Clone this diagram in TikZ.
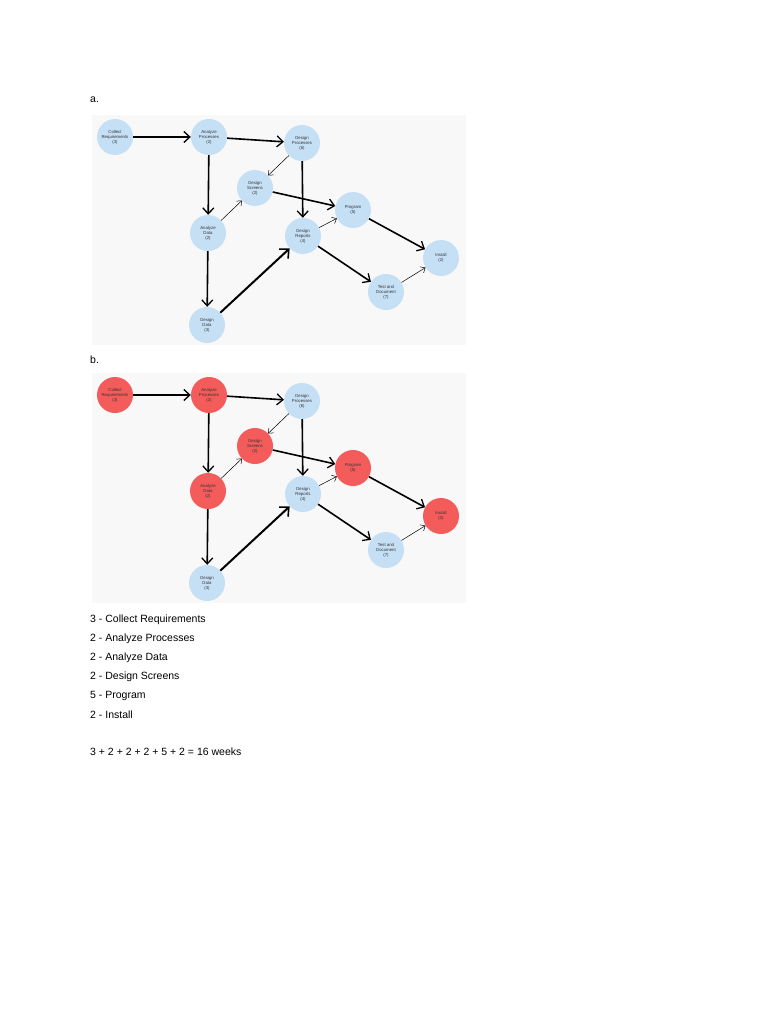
\documentclass[tikz,border=0pt]{standalone}
\usepackage{fontspec}
\setmainfont{Liberation Sans}
\usetikzlibrary{arrows.meta}
\definecolor{nblue}{HTML}{C5DFF5}
\definecolor{nred}{HTML}{F45B5B}
\definecolor{panel}{HTML}{F8F8F8}
\tikzset{
 nd/.style={circle,minimum size=36pt,inner sep=0pt,align=center,font=\fontsize{4.3}{5}\selectfont,text=black!80},
 reg/.style={nd,fill=nblue},
 thick arr/.style={line width=1.6pt,-{Straight Barb[length=6pt,width=11pt,line width=1.3pt]}},
 thin arr/.style={line width=0.5pt,-{Straight Barb[length=4pt,width=7pt,line width=0.5pt]}},
 txt/.style={anchor=west,inner sep=0pt,font=\fontsize{10.5}{12}\selectfont}
}
\newcommand\drawnet[1]{%
 \fill[panel] (92,-115) rectangle (466,-345);
 \node[crit] (#1cr) at (115,-137) {Collect\\Requirements\\(3)};
 \node[crit] (#1ap) at (209,-137) {Analyze\\Processes\\(2)};
 \node[reg] (#1dp) at (302,-143) {Design\\Processes\\(6)};
 \node[crit] (#1ds) at (255,-188) {Design\\Screens\\(2)};
 \node[crit] (#1ad) at (208,-233) {Analyze\\Data\\(2)};
 \node[reg] (#1dd) at (207,-325) {Design\\Data\\(3)};
 \node[reg] (#1dr) at (303,-236) {Design\\Reports\\(4)};
 \node[crit] (#1pg) at (353,-210) {Program\\(5)};
 \node[crit] (#1in) at (441,-258) {Install\\(2)};
 \node[reg] (#1td) at (386,-292) {Test and\\Document\\(7)};
 \draw[thick arr] (#1cr) -- (#1ap);
 \draw[thick arr] (#1ap) -- (#1dp);
 \draw[thick arr] (#1ap) -- (#1ad);
 \draw[thick arr] (#1dp) -- (#1dr);
 \draw[thin arr] (#1dp) -- (#1ds);
 \draw[thin arr] (#1ad) -- (#1ds);
 \draw[thick arr] (#1ds) -- (#1pg);
 \draw[thick arr] (#1ad) -- (#1dd);
 \draw[line width=2pt,-{Straight Barb[length=7pt,width=13pt,line width=1.6pt]}] (#1dd) -- (#1dr);
 \draw[thin arr] (#1dr) -- (#1pg);
 \draw[thick arr] (#1dr) -- (#1td);
 \draw[thick arr] (#1pg) -- (#1in);
 \draw[thin arr] (#1td) -- (#1in);
}
\begin{document}
\begin{tikzpicture}[x=1pt,y=1pt]
\useasboundingbox[fill=white] (0,0) rectangle (768,-1024);
\node[txt] at (90,-100) {a.};
\begin{scope}[crit/.style={nd,fill=nblue}]
\drawnet{a}
\end{scope}
\node[txt] at (90,-360) {b.};
\begin{scope}[yshift=-258pt,crit/.style={nd,fill=nred}]
\drawnet{b}
\end{scope}
\node[txt] at (90,-620) {3 - Collect Requirements};
\node[txt] at (90,-639) {2 - Analyze Processes};
\node[txt] at (90,-658) {2 - Analyze Data};
\node[txt] at (90,-677) {2 - Design Screens};
\node[txt] at (90,-696) {5 - Program};
\node[txt] at (90,-715) {2 - Install};
\node[txt] at (90,-752) {3 + 2 + 2 + 2 + 5 + 2 = 16 weeks};
\end{tikzpicture}
\end{document}
